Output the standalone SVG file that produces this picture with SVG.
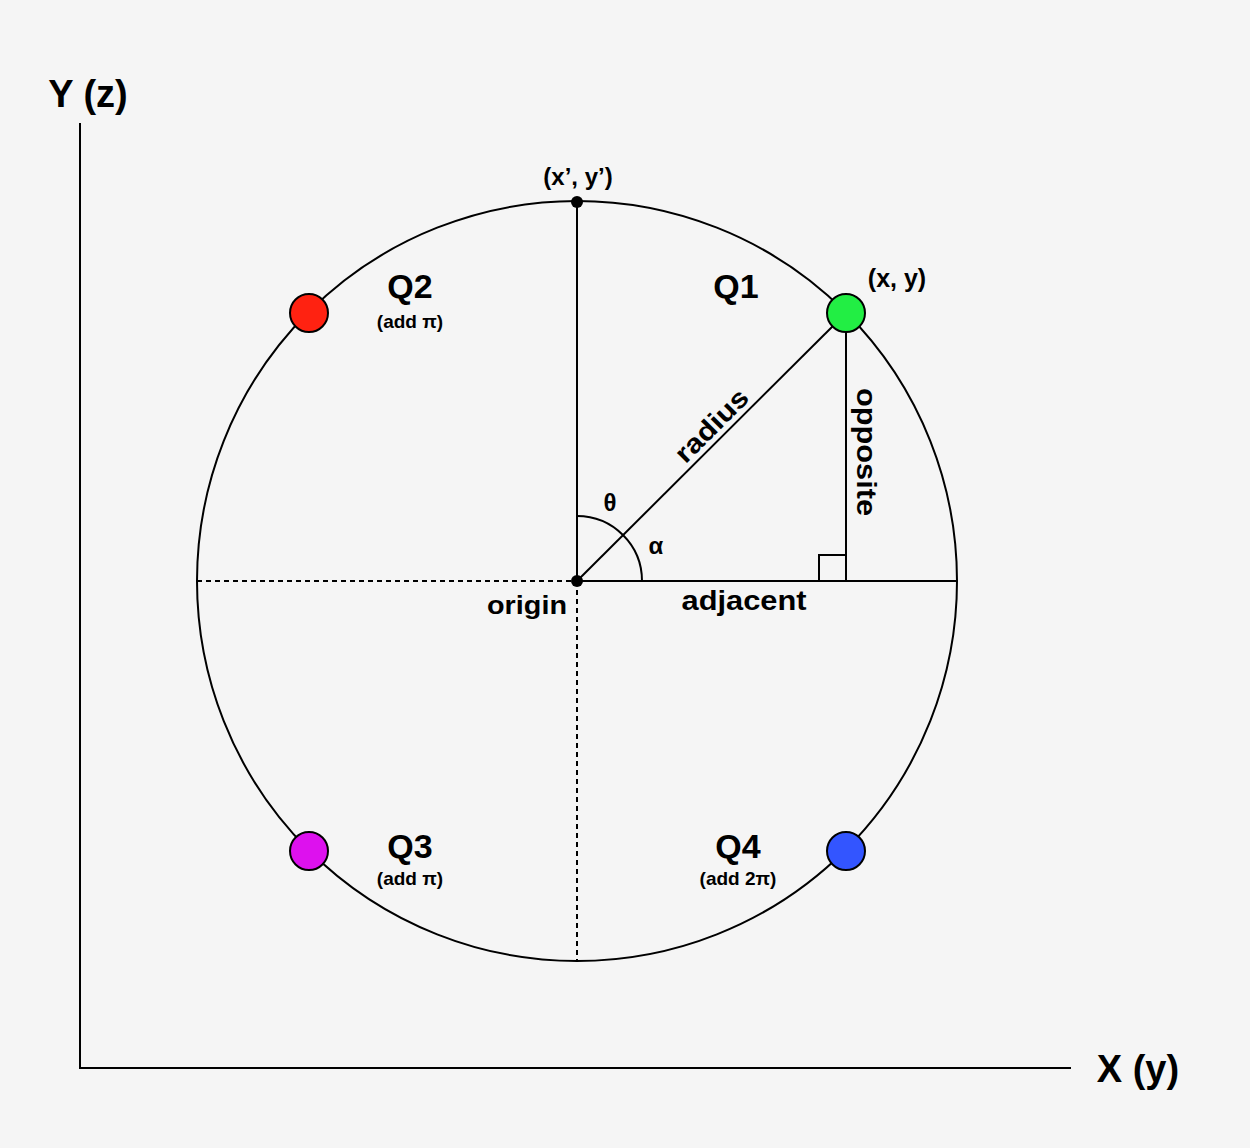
<svg xmlns="http://www.w3.org/2000/svg" width="1250" height="1148" viewBox="0 0 1250 1148">
<style>
.ln{stroke:#000;stroke-width:2;fill:none}
.dash{stroke:#000;stroke-width:2;fill:none;stroke-dasharray:5 4}
.t{font-family:"Liberation Sans",Arial,sans-serif;font-weight:bold;fill:#000;text-anchor:middle}
.pt{stroke:#000;stroke-width:2}
</style>
<rect width="1250" height="1148" fill="#f5f5f5"/>
<g id="axes">
<path class="ln" d="M80 123V1068H1071"/>
<text class="t" x="88" y="107" font-size="38">Y (z)</text>
<text class="t" x="1138" y="1082" font-size="38">X (y)</text>
</g>
<g id="circle">
<circle class="ln" cx="577" cy="581" r="380"/>
</g>
<g id="connectors">
<line class="ln" x1="577" y1="201" x2="577" y2="581"/>
<line class="dash" x1="577" y1="581" x2="577" y2="961"/>
<line class="dash" x1="197" y1="581" x2="577" y2="581"/>
<line class="ln" x1="577" y1="581" x2="957" y2="581"/>
<line class="ln" x1="577" y1="581" x2="846" y2="313"/>
<line class="ln" x1="846" y1="313" x2="846" y2="581"/>
<path class="ln" d="M819 581V555H846"/>
<path class="ln" d="M577 516A65 65 0 0 1 642 581"/>
</g>
<g id="top-point">
<circle cx="577" cy="202" r="6" fill="#000"/>
<text class="t" x="578" y="185" font-size="24">(x’, y’)</text>
</g>
<g id="origin">
<circle cx="577" cy="581" r="6" fill="#000"/>
<text class="t" x="527" y="614" font-size="26" textLength="80" lengthAdjust="spacingAndGlyphs">origin</text>
</g>
<g id="q1-point">
<circle class="pt" cx="846" cy="313" r="19" fill="#22ee44"/>
<text class="t" x="897" y="287" font-size="25">(x, y)</text>
</g>
<g id="q2-point"><circle class="pt" cx="309" cy="313" r="19" fill="#ff2211"/></g>
<g id="q3-point"><circle class="pt" cx="309" cy="851" r="19" fill="#dd11ee"/></g>
<g id="q4-point"><circle class="pt" cx="846" cy="851" r="19" fill="#3355ff"/></g>
<g id="labels">
<text class="t" x="736" y="298" font-size="34">Q1</text>
<text class="t" x="410" y="298" font-size="34">Q2</text>
<text class="t" x="410" y="328" font-size="19">(add π)</text>
<text class="t" x="410" y="858" font-size="34">Q3</text>
<text class="t" x="410" y="885" font-size="19">(add π)</text>
<text class="t" x="738" y="858" font-size="34">Q4</text>
<text class="t" x="738" y="885" font-size="19">(add 2π)</text>
<text class="t" font-size="27" textLength="92" lengthAdjust="spacingAndGlyphs" transform="translate(718 432) rotate(-45)">radius</text>
<text class="t" font-size="27" textLength="128" lengthAdjust="spacingAndGlyphs" transform="translate(857 452) rotate(90)">opposite</text>
<text class="t" x="744" y="610" font-size="27" textLength="125" lengthAdjust="spacingAndGlyphs">adjacent</text>
<text class="t" x="610" y="511" font-size="24">θ</text>
<text class="t" x="656" y="554" font-size="24">α</text>
</g>
</svg>
